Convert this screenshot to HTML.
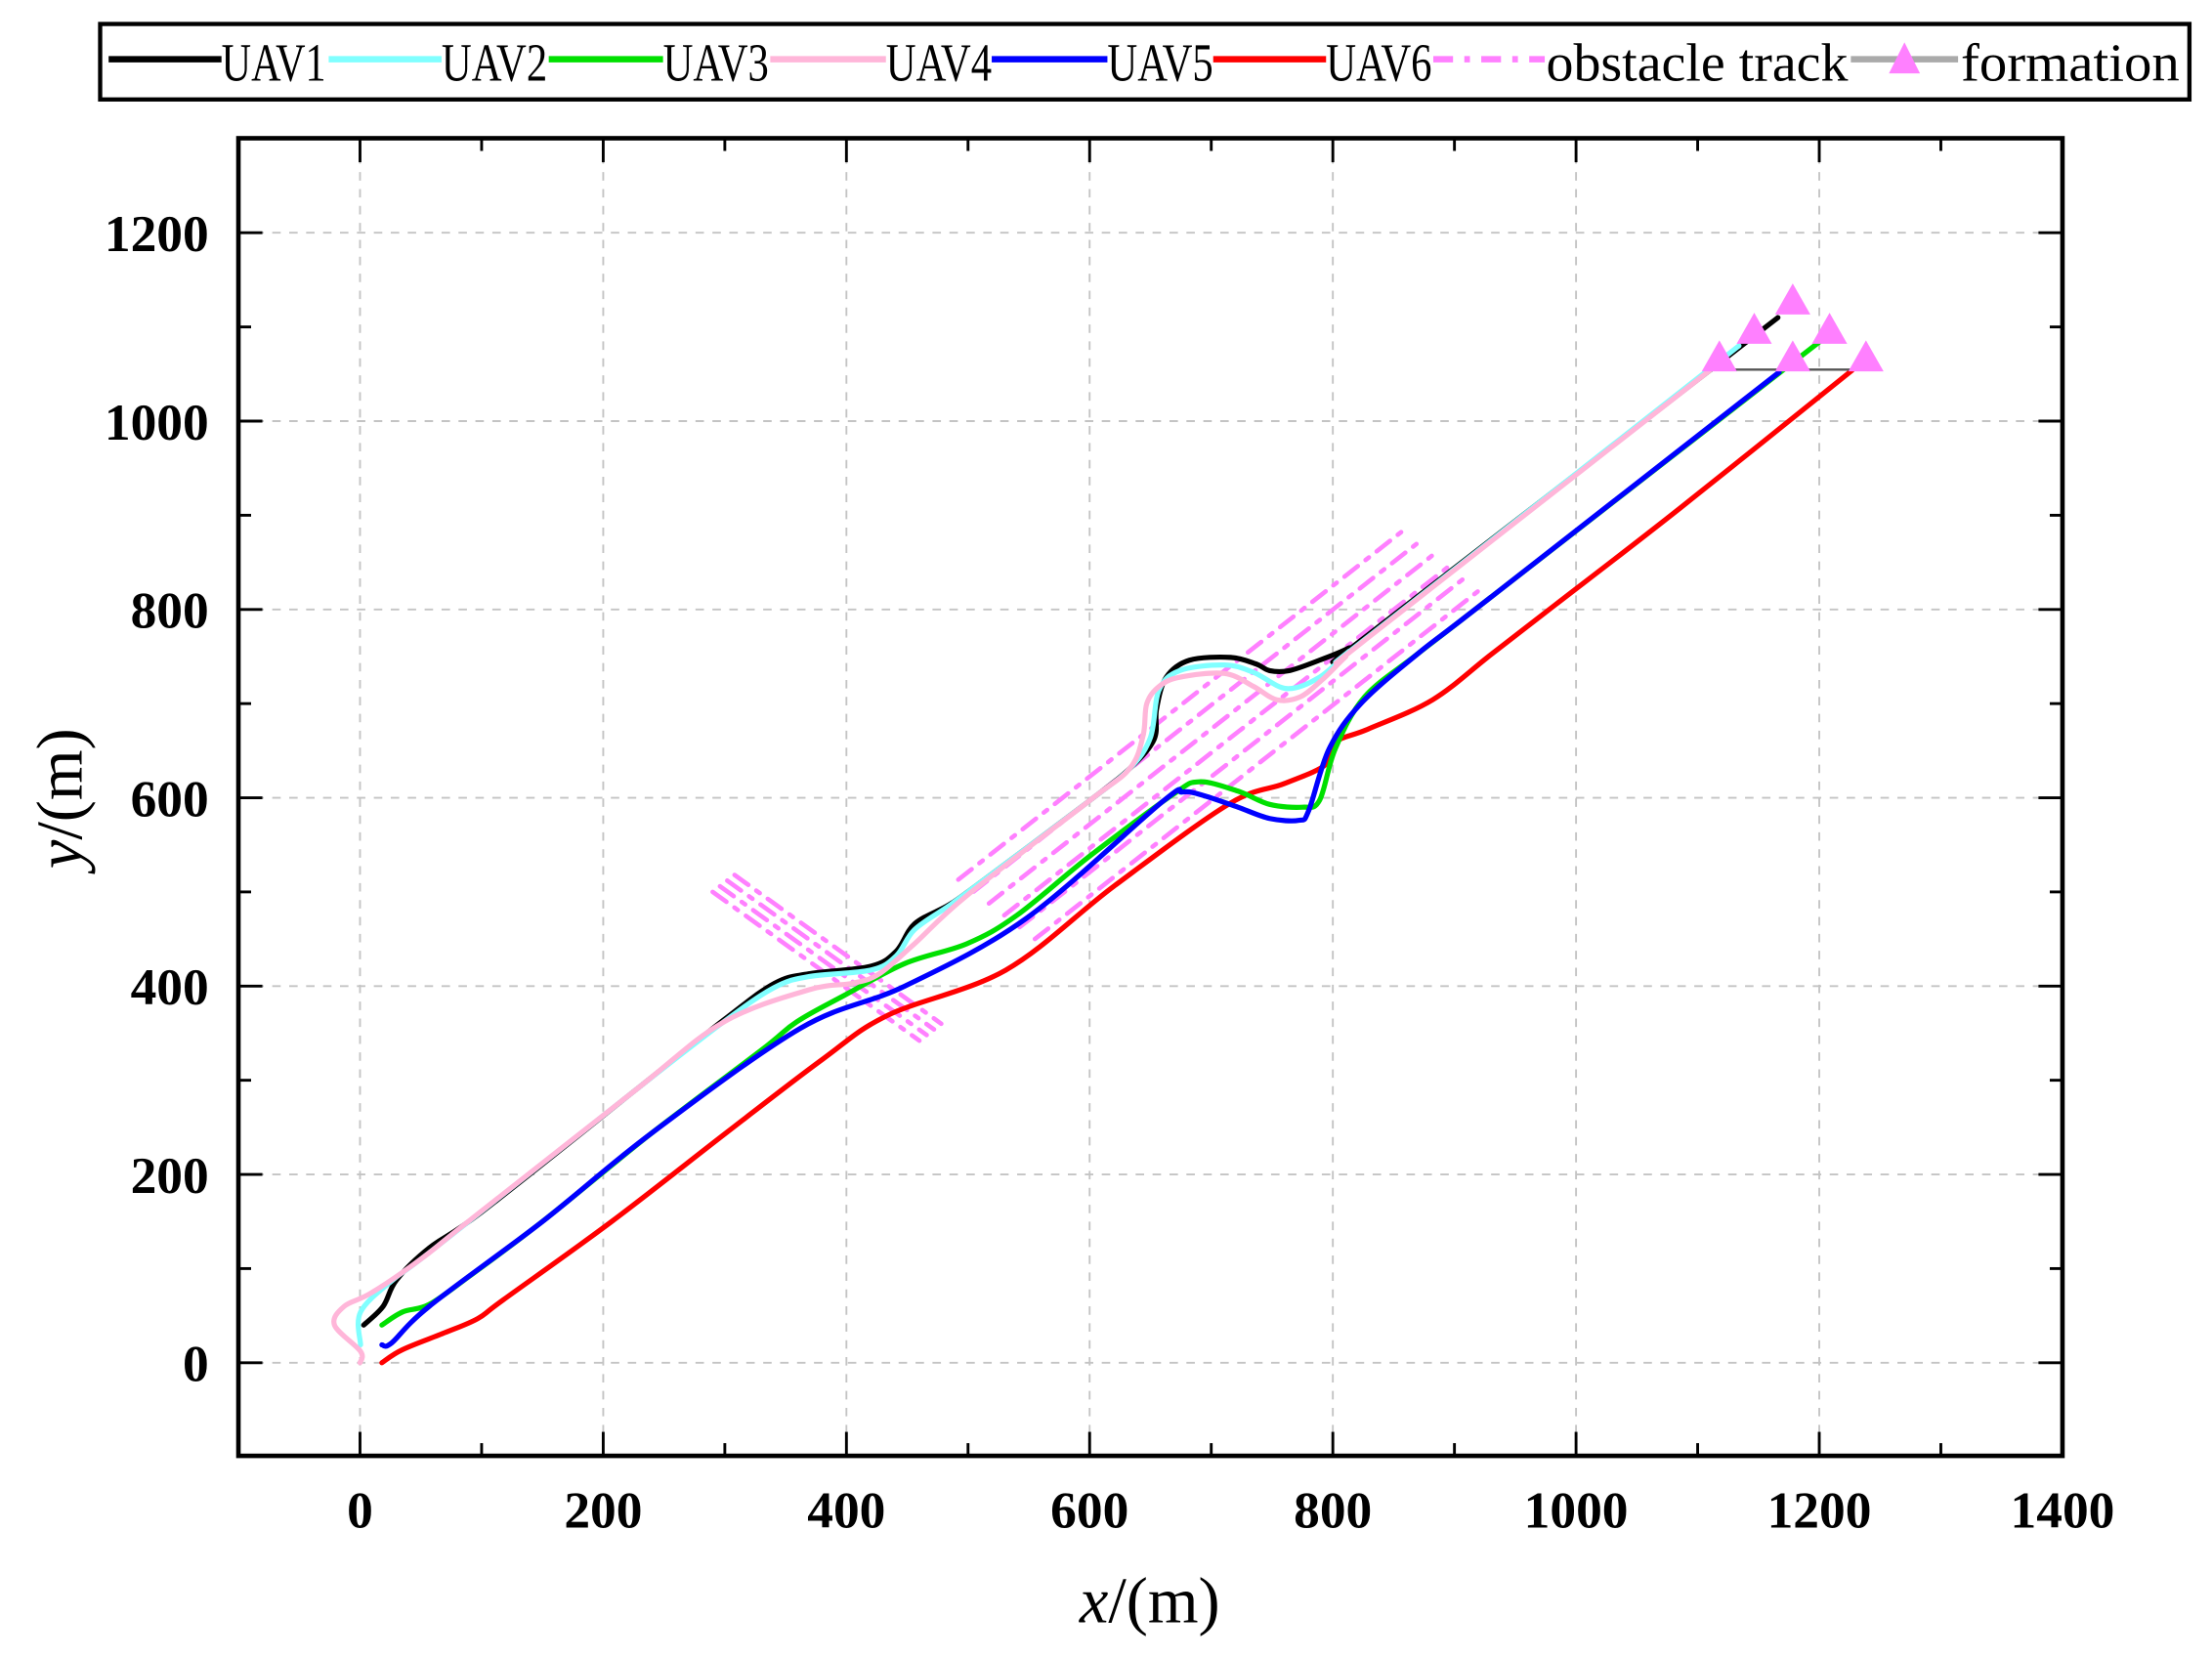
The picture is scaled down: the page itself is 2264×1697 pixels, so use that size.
<!DOCTYPE html>
<html><head><meta charset="utf-8"><style>
html,body{margin:0;padding:0;background:#fff;}
svg{display:block;}
text{font-family:"Liberation Serif",serif;fill:#000;}
</style></head><body>
<svg id="s" width="2264" height="1697" viewBox="0 0 1568 1175.3" preserveAspectRatio="none" xmlns="http://www.w3.org/2000/svg">
<rect x="0" y="0" width="1568" height="1175.3" fill="#fff"/>
<rect x="71" y="17" width="1481" height="53.5" fill="#fff" stroke="#000" stroke-width="3"/>
<g stroke-width="4.5">
<line x1="77" y1="42" x2="157" y2="42" stroke="#000"/>
<line x1="233" y1="42" x2="313" y2="42" stroke="#80ffff"/>
<line x1="389" y1="42" x2="470" y2="42" stroke="#00e000"/>
<line x1="546" y1="42" x2="628" y2="42" stroke="#ffb6d9"/>
<line x1="703" y1="42" x2="785" y2="42" stroke="#0000ff"/>
<line x1="860" y1="42" x2="940" y2="42" stroke="#ff0000"/>
<line x1="1016" y1="42" x2="1095" y2="42" stroke="#ff80ff" stroke-dasharray="14,8,4,8"/>
<line x1="1312" y1="42" x2="1388" y2="42" stroke="#aaaaaa"/>
</g>
<polygon points="1350,30 1339,52 1361,52" fill="#ff80ff"/>
<g font-size="38">
<text x="157" y="57" textLength="74" lengthAdjust="spacingAndGlyphs">UAV1</text>
<text x="313" y="57" textLength="75" lengthAdjust="spacingAndGlyphs">UAV2</text>
<text x="470" y="57" textLength="75" lengthAdjust="spacingAndGlyphs">UAV3</text>
<text x="628" y="57" textLength="75" lengthAdjust="spacingAndGlyphs">UAV4</text>
<text x="785" y="57" textLength="75" lengthAdjust="spacingAndGlyphs">UAV5</text>
<text x="940" y="57" textLength="75" lengthAdjust="spacingAndGlyphs">UAV6</text>
<text x="1096" y="57" textLength="214" lengthAdjust="spacingAndGlyphs">obstacle track</text>
<text x="1390" y="57" textLength="155" lengthAdjust="spacingAndGlyphs">formation</text>
</g>
<g id="grid" stroke="#c4c4c4" stroke-width="1.3" stroke-dasharray="6,6" fill="none"></g>
<g id="series" fill="none" stroke-linecap="round" stroke-linejoin="round"></g>
<g id="axes"></g>
</svg>
<script>
var NS="http://www.w3.org/2000/svg";
function X(x){return 255.2+0.862*x;}
function Y(y){return 966-0.6675*y;}
function el(p,tag,a,txt){var e=document.createElementNS(NS,tag);for(var k in a)e.setAttribute(k,a[k]);if(txt!==undefined)e.textContent=txt;p.appendChild(e);return e;}
var grid=document.getElementById('grid'),ser=document.getElementById('series'),ax=document.getElementById('axes');
for(var x=0;x<=1400;x+=200){el(grid,'line',{x1:X(x),y1:98,x2:X(x),y2:1032});}
for(var y=0;y<=1200;y+=200){el(grid,'line',{x1:169,y1:Y(y),x2:1462,y2:Y(y)});}
function smooth(pts){
  var P=pts.map(function(p){return [X(p[0]),Y(p[1])];});
  var d="M"+P[0][0].toFixed(1)+","+P[0][1].toFixed(1);
  for(var i=0;i<P.length-1;i++){
    var p0=P[i-1]||P[i],p1=P[i],p2=P[i+1],p3=P[i+2]||P[i+1];
    var c1=[p1[0]+(p2[0]-p0[0])/6,p1[1]+(p2[1]-p0[1])/6];
    var c2=[p2[0]-(p3[0]-p1[0])/6,p2[1]-(p3[1]-p1[1])/6];
    d+=" C"+c1[0].toFixed(1)+","+c1[1].toFixed(1)+" "+c2[0].toFixed(1)+","+c2[1].toFixed(1)+" "+p2[0].toFixed(1)+","+p2[1].toFixed(1);
  }
  return d;
}
var ob=[];
for(var k=0;k<4;k++){var o=k*6;ob.push([[290+o,500+o],[460+o,342+o]]);}
var offs=[-40,-22,-4,14,32,50];
for(var k=0;k<offs.length;k++){var o=offs[k];ob.push([[520+o*0.7,485-o*0.7],[890+o*0.7,860-o*0.7]]);}
ob.forEach(function(s){el(ser,'line',{x1:X(s[0][0]),y1:Y(s[0][1]),x2:X(s[1][0]),y2:Y(s[1][1]),stroke:'#ff80ff','stroke-width':3.2,'stroke-dasharray':'12,7,3,7'});});

var S={
red:[[18,0],[35,14],[70,32],[97,47],[118,67],[207,150],[301,244],[380,322],[434,369],[531,417],[620,506],[714,593],[760,615],[794,635],[802,659],[829,673],[882,704],[930,752],[983,805],[1086,908],[1227,1054]],
blue:[[18,19],[26,21],[57,60],[150,150],[240,244],[362,355],[448,400],[548,472],[660,596],[676,606],[692,603],[722,590],[748,578],[772,576],[780,586],[797,652],[823,700],[869,752],[925,808],[1167,1052]],
green:[[18,40],[35,54],[57,62],[90,92],[150,150],[240,244],[330,332],[359,362],[398,390],[448,424],[499,445],[540,475],[600,538],[668,603],[690,617],[722,607],[748,593],[775,590],[789,597],[802,652],[826,707],[869,752],[925,808],[1180,1064],[1198,1082]],
cyan:[[0.5,19],[0.5,54],[27,88],[60,120],[226,289],[298,361],[340,398],[369,410],[420,417],[441,432],[456,460],[484,485],[506,506],[600,597],[633,631],[650,664],[657,714],[674,735],[711,741],[735,733],[762,716],[789,728],[813,755],[829,771],[1134,1080]],
pink:[[0,0],[0.5,12],[-21,40],[-13,60],[9,74],[49,109],[89,150],[226,289],[298,361],[369,396],[405,403],[427,413],[456,445],[499,496],[600,597],[633,631],[644,666],[647,700],[657,718],[674,728],[711,732],[735,718],[754,704],[773,707],[791,725],[810,749],[829,770],[1110,1054]],
black:[[3,40],[19,60],[30,88],[57,122],[100,160],[226,289],[300,365],[341,403],[369,413],[420,421],[441,437],[456,466],[484,486],[506,506],[600,597],[633,631],[653,662],[655,694],[663,728],[682,746],[716,749],[737,742],[748,735],[764,735],[789,746],[813,759],[829,773],[1166,1110]]
};
var col={red:'#ff0000',blue:'#0000ff',green:'#00e000',cyan:'#80ffff',pink:'#ffb6d9',black:'#000000'};
['red','green','blue','black','cyan','pink'].forEach(function(n){el(ser,'path',{d:smooth(S[n]),stroke:col[n],'stroke-width':3.6});});
el(ser,'line',{x1:1228,y1:262,x2:1262,y2:262,stroke:'#555','stroke-width':1.6});
el(ser,'line',{x1:1280,y1:262,x2:1313,y2:262,stroke:'#555','stroke-width':1.6});
[[1218.8,252.8],[1243.5,233.2],[1270.8,212.4],[1296.9,233.2],[1322.7,252.8],[1270.8,252.8]].forEach(function(c){
  el(ser,'polygon',{points:(c[0])+","+(c[1]-11.5)+" "+(c[0]-12.5)+","+(c[1]+10.5)+" "+(c[0]+12.5)+","+(c[1]+10.5),fill:'#ff80ff'});
});
el(ax,'rect',{x:169,y:98,width:1293,height:934,fill:'none',stroke:'#000','stroke-width':3.2});
for(var x=-100;x<=1400;x+=100){var L=(x%200==0)?17:9;var px=X(x);
  if(px>1461||px<170)continue;
  el(ax,'line',{x1:px,y1:1032,x2:px,y2:1032-L,stroke:'#000','stroke-width':2});
  el(ax,'line',{x1:px,y1:98,x2:px,y2:98+L,stroke:'#000','stroke-width':2});}
for(var y=-100;y<=1300;y+=100){var L=(y%200==0)?17:9;var py=Y(y);if(py>1031||py<99)continue;
  el(ax,'line',{x1:169,y1:py,x2:169+L,y2:py,stroke:'#000','stroke-width':2});
  el(ax,'line',{x1:1462,y1:py,x2:1462-L,y2:py,stroke:'#000','stroke-width':2});}
for(var x=0;x<=1400;x+=200){el(ax,'text',{x:X(x),y:1083,'text-anchor':'middle','font-size':37,'font-weight':'bold'},String(x));}
for(var y=0;y<=1200;y+=200){el(ax,'text',{x:148,y:Y(y)+13,'text-anchor':'end','font-size':37,'font-weight':'bold'},String(y));}
var t=el(ax,'text',{x:815,y:1150,'text-anchor':'middle','font-size':46});
el(t,'tspan',{'font-style':'italic'},'x');el(t,'tspan',{},'/(m)');
var t2=el(ax,'text',{x:0,y:0,'text-anchor':'middle','font-size':46,transform:'translate(58,566) rotate(-90)'});
el(t2,'tspan',{'font-style':'italic'},'y');el(t2,'tspan',{},'/(m)');
</script>
</body></html>
